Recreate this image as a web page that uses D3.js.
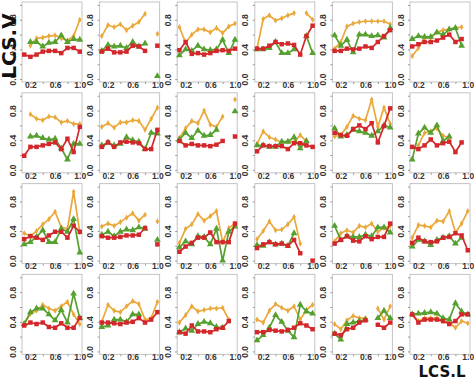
<!DOCTYPE html>
<html><head><meta charset="utf-8">
<script src="https://cdn.jsdelivr.net/npm/d3@7"></script>
<style>body{margin:0;background:#fff}svg{display:block}</style>
</head><body><svg id="c" width="474" height="377"></svg>
<script>
const xValues = [0.1,0.2,0.3,0.4,0.5,0.6,0.7,0.8,0.9,1.0];
const xTicks = [0.2,0.4,0.6,0.8,1.0];
const xTickLabels = [0.2,0.6,1.0];
const yTicks = [0.0,0.2,0.4,0.6,0.8,1.0];
const yTickLabels = [0.0,0.4,0.8];
const xTitle = "LCS.L";
const yTitle = "LCS.V";
const N = null;
const orange = [
 [N,0.45,0.55,0.56,0.58,0.59,0.55,0.52,0.58,0.80],
 [0.58,0.73,0.70,0.74,0.66,0.72,0.77,0.88,N,0.61],
 [0.70,0.49,0.60,0.67,0.67,0.63,0.69,0.62,0.71,0.75],
 [0.41,0.81,0.86,0.79,0.82,0.86,0.89,N,0.89,0.80],
 [0.41,0.50,0.71,0.75,0.77,0.78,0.78,0.78,0.78,0.74],
 [0.31,0.42,0.56,0.56,0.63,0.66,0.67,0.69,0.70,N],
 [N,0.75,0.69,0.67,0.72,0.71,0.64,0.66,0.62,0.62],
 [0.58,0.63,0.57,0.64,0.64,0.67,0.66,0.54,0.69,0.84],
 [0.43,0.56,0.66,0.63,0.80,0.61,0.58,0.72,N,0.95],
 [0.35,0.52,0.44,0.41,0.37,0.38,0.37,0.47,0.38,N],
 [0.45,0.47,0.58,0.73,0.69,0.67,0.95,0.58,0.84,0.62],
 [N,0.33,0.50,0.52,0.56,0.46,0.43,N,N,N],
 [0.37,0.33,0.40,0.49,0.56,0.66,0.45,0.43,0.93,0.38],
 [0.46,0.50,0.47,0.52,0.58,0.64,0.54,0.62,N,0.53],
 [0.24,0.43,0.49,0.63,0.54,0.60,0.67,0.25,0.44,0.50],
 [0.29,0.40,0.53,0.41,0.42,0.49,0.59,0.23,N,N],
 [0.26,0.37,0.41,0.38,0.47,0.45,0.50,0.39,0.44,0.47],
 [0.31,0.48,0.47,0.45,0.54,0.53,0.67,0.38,0.50,0.67],
 [0.37,0.51,0.55,0.63,0.58,0.55,0.61,0.67,0.50,0.37],
 [0.40,0.63,0.55,0.53,0.61,0.68,0.64,0.43,0.45,0.67],
 [0.39,0.49,0.61,0.54,0.56,0.58,0.58,0.59,0.43,N],
 [0.43,0.39,0.55,0.64,0.59,0.55,0.61,0.43,0.56,0.63],
 [0.37,0.30,0.42,0.48,0.45,0.45,N,0.58,0.43,0.61],
 [0.50,0.41,0.45,0.45,0.45,0.41,0.39,0.32,0.41,0.38]
];
const green = [
 [N,0.50,0.50,0.44,0.49,0.50,0.59,0.50,0.54,0.53],
 [0.38,0.46,0.44,0.45,0.42,0.50,0.44,0.48,N,0.04],
 [0.32,0.40,0.38,0.45,0.40,0.39,0.40,0.53,0.35,0.53],
 [0.40,0.40,0.42,0.50,0.35,0.35,0.40,N,0.58,0.35],
 [0.59,0.45,0.53,0.36,0.60,0.60,0.58,0.59,0.56,0.69],
 [0.54,0.58,0.57,0.57,0.63,0.60,0.67,0.69,0.45,N],
 [N,0.45,0.46,0.43,0.41,0.42,0.29,0.14,0.35,0.35],
 [0.33,0.37,0.33,0.35,0.44,0.40,0.38,0.28,0.50,0.49],
 [0.41,0.50,0.43,0.53,0.46,0.47,0.54,N,N,0.79],
 [0.33,0.33,0.31,0.31,0.38,0.38,0.44,0.29,0.39,N],
 [0.56,0.45,0.47,0.54,0.52,0.50,0.46,0.52,0.60,0.57],
 [0.14,0.49,0.57,0.50,0.60,0.39,0.45,N,N,N],
 [0.22,0.25,0.32,0.41,0.25,0.25,0.43,0.39,0.56,0.11],
 [0.35,0.39,0.33,0.39,0.42,0.41,0.45,0.43,N,0.28],
 [0.18,0.26,0.22,0.33,0.32,0.22,0.43,0.00,0.39,0.46],
 [0.21,0.20,0.25,0.22,0.23,0.20,0.37,N,N,N],
 [0.47,0.28,0.33,0.32,0.32,0.35,0.33,0.45,0.45,0.38],
 [0.19,0.28,0.26,0.21,0.28,0.31,0.33,0.23,0.31,N],
 [0.37,0.53,0.58,0.58,0.50,0.42,0.56,0.39,0.78,0.45],
 [0.33,0.35,0.43,0.43,0.40,0.50,0.50,N,N,N],
 [0.26,0.31,0.28,0.37,0.40,0.38,0.33,0.32,N,N],
 [0.15,0.22,0.32,0.49,0.40,0.28,0.19,0.63,0.54,0.51],
 [0.24,0.16,0.37,0.39,0.41,0.43,N,0.45,0.55,0.45],
 [0.50,0.51,0.52,0.53,0.51,0.45,0.43,0.65,0.54,0.50]
];
const red = [
 [0.33,0.30,0.33,0.37,0.38,0.38,0.35,0.42,0.42,0.37],
 [0.37,0.41,0.36,0.36,0.37,0.45,0.44,0.38,N,0.45],
 [0.39,0.50,0.34,0.35,0.33,0.35,0.38,0.39,0.38,0.41],
 [0.41,0.41,0.45,0.50,0.47,0.48,0.46,0.33,0.58,0.72],
 [0.38,0.38,0.41,0.40,0.41,0.44,0.42,0.50,0.58,0.66],
 [0.44,0.47,0.50,0.50,0.52,0.56,0.60,0.50,0.54,N],
 [0.19,0.31,0.31,0.33,0.35,0.37,0.28,0.42,0.24,0.58],
 [0.31,0.37,0.31,0.37,0.38,0.37,0.36,0.28,0.28,0.54],
 [0.39,0.33,0.35,0.33,0.33,0.32,0.34,0.39,N,0.45],
 [0.25,0.33,0.32,0.32,0.32,0.28,0.36,0.36,0.33,0.31],
 [0.50,0.47,0.46,0.55,0.60,0.55,0.63,0.37,0.59,0.83],
 [0.31,0.28,0.33,0.41,0.33,0.36,0.38,0.24,0.37,N],
 [0.29,0.33,0.31,0.28,0.34,0.39,0.39,0.31,0.47,0.39],
 [0.33,0.31,0.31,0.32,0.34,0.34,0.35,0.44,N,0.22],
 [0.12,0.19,0.24,0.31,0.31,0.38,0.25,0.25,0.25,0.50],
 [0.17,0.22,0.25,0.22,0.23,0.20,0.28,0.10,N,0.00],
 [0.23,0.28,0.33,0.27,0.26,0.33,0.29,0.32,0.32,0.50],
 [0.24,0.31,0.26,0.25,0.26,0.31,0.32,0.37,0.34,0.14],
 [0.35,0.39,0.37,0.39,0.33,0.32,0.38,0.32,0.32,0.45],
 [0.39,0.39,0.38,0.37,0.39,0.40,0.45,0.39,0.43,0.53],
 [0.26,0.24,0.35,0.27,0.27,0.26,0.30,0.32,0.41,N],
 [0.26,0.26,0.29,0.28,0.27,0.29,0.32,0.38,0.35,0.30],
 [0.24,0.22,0.30,0.32,0.39,0.42,N,0.36,0.32,0.39],
 [0.50,0.39,0.43,0.43,0.43,0.41,0.37,0.41,0.50,0.50]
];

const svg = d3.select("#c");
const nCols = 6, nRows = 4;
const pw = 60, ph = 80;
const colX = i => 22 + i * 77.6;
const rowY = j => 2 + j * 90.8;
const x = d3.scaleLinear().domain([0.064, 1.036]).range([0, pw]);
const y = d3.scaleLinear().domain([-0.04, 1.04]).range([ph, 0]);
const series = [
  {data: orange, color: "#EBA83A", sym: d3.symbolDiamond, size: 11, w: 1.7},
  {data: green,  color: "#55A02E", sym: d3.symbolTriangle, size: 20, w: 1.7},
  {data: red,    color: "#D3272B", sym: d3.symbolSquare, size: 20, w: 1.7}
];
const font = "'Liberation Sans', Arial, sans-serif";

for (let p = 0; p < nCols * nRows; p++) {
  const c = p % nCols, r = Math.floor(p / nCols);
  const g = svg.append("g").attr("transform", `translate(${colX(c)},${rowY(r)})`);
  g.append("rect").attr("width", pw).attr("height", ph)
    .attr("fill", "#fff").attr("stroke", "#c4c4c4").attr("stroke-width", 1);
  const xa = d3.axisBottom(x).tickValues(xTicks).tickSize(2).tickFormat(d => xTickLabels.some(v => Math.abs(v - d) < 1e-9) ? d3.format(".1f")(d) : "");
  const gx = g.append("g").attr("transform", `translate(0,${ph})`).call(xa);
  gx.select(".domain").remove();
  gx.selectAll("line").attr("stroke", "#999");
  gx.selectAll("text").attr("font-family", font).attr("font-weight", "bold")
    .attr("font-size", 8.5).attr("fill", "#333").attr("dy", "0.45em").attr("y", 2);
  const ya = d3.axisLeft(y).tickValues(yTicks).tickSize(2).tickFormat(d => yTickLabels.some(v => Math.abs(v - d) < 1e-9) ? d3.format(".1f")(d) : "");
  const gy = g.append("g").call(ya);
  gy.select(".domain").remove();
  gy.selectAll("line").attr("stroke", "#999");
  gy.selectAll("text").attr("font-family", font).attr("font-weight", "bold")
    .attr("font-size", 8.5).attr("fill", "#333")
    .attr("x", null).attr("dy", null).attr("text-anchor", "middle")
    .attr("transform", "translate(-6.5,0) rotate(-90)");
  series.forEach(s => {
    const vals = s.data[p].map((v, i) => ({x: xValues[i], v}));
    const line = d3.line().defined(d => d.v !== null).x(d => x(d.x)).y(d => y(d.v));
    g.append("path").datum(vals).attr("d", line).attr("fill", "none")
      .attr("stroke", s.color).attr("stroke-width", s.w).attr("stroke-linejoin", "round");
    g.selectAll(null).data(vals.filter(d => d.v !== null)).enter().append("path")
      .attr("d", d3.symbol().type(s.sym).size(s.size))
      .attr("transform", d => `translate(${x(d.x)},${y(d.v)})`)
      .attr("fill", s.color);
  });
}
svg.append("text").text(yTitle).attr("font-family", "'DejaVu Sans', sans-serif").attr("font-weight", "bold")
  .attr("font-size", 20).attr("fill", "#111").attr("text-anchor", "middle")
  .attr("transform", "translate(15.5,46) rotate(-90)");
svg.append("text").text(xTitle).attr("font-family", "'DejaVu Sans', sans-serif").attr("font-weight", "bold")
  .attr("font-size", 15).attr("fill", "#111").attr("text-anchor", "middle")
  .attr("x", 442).attr("y", 377);
</script></body></html>
